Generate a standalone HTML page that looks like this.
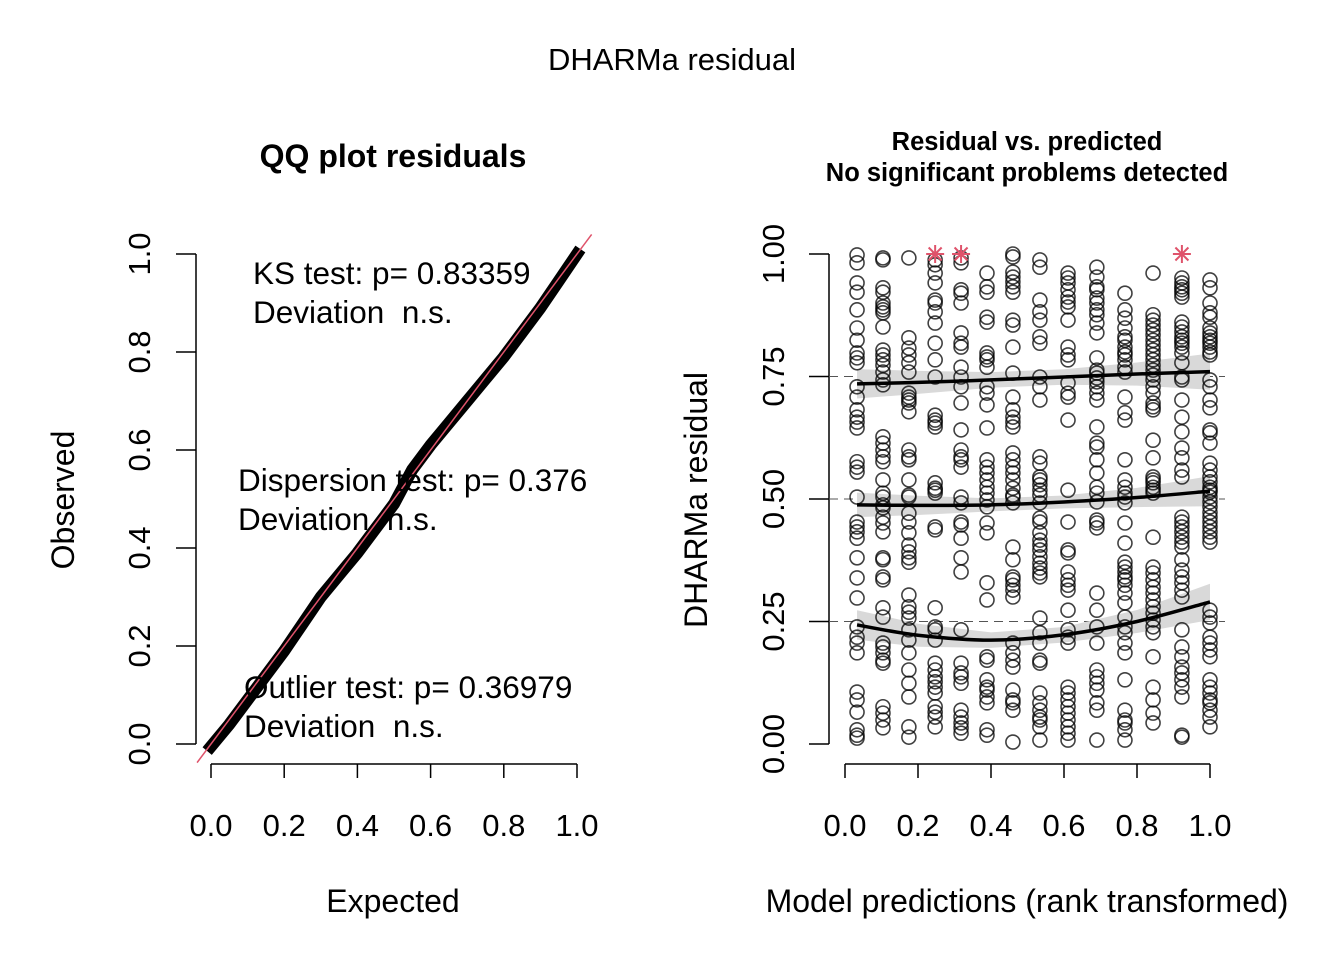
<!DOCTYPE html>
<html><head><meta charset="utf-8">
<style>
html,body{margin:0;padding:0;background:#fff;}
svg{display:block;font-family:"Liberation Sans",Arial,sans-serif;}
text{white-space:pre;}
</style></head>
<body>
<svg id="chart" width="1344" height="960" viewBox="0 0 1344 960" xmlns="http://www.w3.org/2000/svg">
<rect width="1344" height="960" fill="#fff"/>
<text x="672" y="70" font-size="31" text-anchor="middle">DHARMa residual</text>
<text x="393" y="167" font-size="32" font-weight="bold" text-anchor="middle">QQ plot residuals</text>
<text x="1027" y="150" font-size="25.5" font-weight="bold" text-anchor="middle">Residual vs. predicted</text>
<text x="1027" y="181" font-size="25.5" font-weight="bold" text-anchor="middle">No significant problems detected</text>
<text x="393" y="912" font-size="32" text-anchor="middle">Expected</text>
<text transform="translate(74,500) rotate(-90)" font-size="32" text-anchor="middle">Observed</text>
<text x="1027" y="912" font-size="32" text-anchor="middle">Model predictions (rank transformed)</text>
<text transform="translate(707,500) rotate(-90)" font-size="32" text-anchor="middle">DHARMa residual</text>
<g id="qq"></g>
<g id="rp"></g>
</svg>
<script>
// ---- QQ plot data ----
const qqExpected = [0,0.05,0.1,0.15,0.2,0.25,0.3,0.35,0.4,0.45,0.5,0.55,0.6,0.65,0.7,0.75,0.8,0.85,0.9,0.95,1.0];
const qqObserved = [-0.005,0.04,0.09,0.14,0.19,0.245,0.3,0.345,0.39,0.44,0.49,0.56,0.61,0.655,0.7,0.745,0.79,0.84,0.89,0.945,1.0];
const qqTicks = ["0.0","0.2","0.4","0.6","0.8","1.0"];
const qqTickValues = [0,0.2,0.4,0.6,0.8,1.0];
// ---- Residual plot data ----
const predX = [0.033,0.104,0.175,0.247,0.318,0.389,0.46,0.534,0.611,0.690,0.767,0.844,0.923,1.0];
const resCols = [
[.998,.982,.941,.922,.886,.849,.824,.798,.788,.778,.729,.708,.682,.667,.657,.645,.576,.565,.555,.504,.453,.443,.433,.420,.380,.339,.298,.239,.218,.206,.186,.106,.090,.065,.029,.018,.012],
[.992,.988,.931,.922,.9,.892,.886,.88,.851,.804,.794,.784,.773,.759,.743,.733,.627,.614,.6,.586,.576,.539,.512,.504,.488,.482,.463,.451,.433,.38,.376,.341,.335,.278,.259,.206,.198,.186,.171,.165,.076,.063,.049,.033],
[.992,.829,.808,.794,.778,.759,.716,.708,.702,.696,.678,.6,.586,.580,.539,.508,.504,.471,.453,.431,.406,.392,.380,.371,.304,.280,.269,.257,.233,.212,.186,.151,.124,.096,.035,.014],
[.988,.978,.961,.941,.906,.9,.882,.859,.818,.784,.749,.671,.661,.655,.647,.533,.522,.512,.518,.443,.437,.278,.239,.233,.212,.165,.151,.137,.127,.116,.104,.076,.065,.055,.035],
[.992,.982,.927,.92,.9,.839,.818,.81,.769,.749,.729,.696,.641,.6,.586,.58,.565,.504,.492,.453,.447,.42,.38,.351,.233,.165,.145,.137,.124,.069,.055,.043,.033,.022],
[.961,.933,.922,.871,.861,.798,.790,.784,.769,.729,.716,.692,.645,.58,.565,.553,.539,.524,.512,.498,.484,.451,.431,.329,.294,.178,.171,.131,.116,.110,.096,.084,.029,.018],
[1.0,.994,.963,.953,.943,.933,.922,.865,.855,.810,.757,.708,.682,.667,.657,.647,.594,.58,.565,.553,.539,.522,.508,.504,.492,.402,.376,.341,.335,.324,.314,.3,.206,.186,.171,.157,.110,.090,.084,.069,.004],
[.988,.973,.906,.882,.865,.831,.818,.749,.729,.702,.586,.573,.545,.539,.529,.518,.508,.492,.461,.453,.431,.416,.406,.396,.382,.369,.359,.349,.341,.257,.227,.206,.171,.165,.104,.084,.069,.055,.049,.035,.008],
[.961,.951,.941,.927,.912,.902,.892,.865,.810,.794,.784,.737,.716,.708,.661,.518,.453,.396,.39,.351,.335,.324,.314,.273,.233,.218,.206,.116,.104,.09,.076,.063,.049,.035,.022,.008],
[.973,.953,.933,.927,.910,.9,.886,.876,.859,.839,.788,.763,.757,.747,.739,.729,.716,.702,.647,.614,.606,.58,.553,.524,.512,.494,.457,.451,.441,.308,.273,.239,.206,.151,.137,.124,.110,.084,.069,.008],
[.92,.886,.869,.849,.831,.824,.810,.8,.794,.784,.769,.759,.708,.676,.661,.58,.539,.524,.512,.504,.492,.451,.410,.371,.361,.351,.341,.335,.324,.308,.288,.259,.239,.227,.206,.186,.131,.069,.049,.043,.029,.008],
[.961,.876,.865,.855,.845,.835,.824,.814,.804,.794,.784,.773,.763,.753,.743,.729,.716,.696,.688,.682,.620,.584,.545,.539,.533,.524,.518,.512,.422,.361,.349,.335,.320,.308,.294,.280,.267,.253,.239,.227,.178,.116,.090,.063,.043],
[.951,.941,.933,.927,.92,.912,.861,.851,.841,.831,.824,.818,.810,.798,.778,.749,.743,.702,.667,.637,.604,.584,.559,.545,.463,.453,.443,.433,.422,.412,.402,.376,.355,.341,.329,.314,.3,.233,.198,.178,.157,.145,.131,.116,.096,.018,.014],
[.947,.931,.9,.880,.871,.849,.839,.831,.824,.818,.810,.8,.794,.743,.729,.702,.686,.641,.635,.614,.573,.559,.545,.535,.524,.514,.518,.504,.494,.484,.473,.463,.453,.443,.433,.422,.412,.273,.259,.247,.218,.206,.192,.178,.131,.116,.104,.09,.084,.069,.055,.035]
];
const outlierX = [0.247,0.318,0.923];
const outlierY = [1.0,1.0,1.0];
const quantX = [0.033,0.2,0.4,0.6,0.8,1.0];
const q75 = [0.735,0.738,0.743,0.749,0.755,0.760];
const q50 = [0.488,0.487,0.488,0.494,0.503,0.516];
const q25 = [0.243,0.222,0.212,0.223,0.250,0.290];
const resTicks = ["0.00","0.25","0.50","0.75","1.00"];
const resTickValues = [0,0.25,0.5,0.75,1.0];
const predTicks = ["0.0","0.2","0.4","0.6","0.8","1.0"];
const predTickValues = [0,0.2,0.4,0.6,0.8,1.0];

const NS = "http://www.w3.org/2000/svg";
function mk(parent, tag, attrs){const e=document.createElementNS(NS,tag);for(const k in attrs)e.setAttribute(k,attrs[k]);parent.appendChild(e);return e;}

const qx = v => 211 + v*366;
const qy = v => 744 - v*490;
const qq = document.getElementById('qq');
let e;
e = mk(qq,'line',{x1:qx(0),x2:qx(1),y1:764,y2:764,stroke:'#000','stroke-width':1.5});


e = mk(qq,'line',{x1:196,x2:196,y1:qy(0),y2:qy(1),stroke:'#000','stroke-width':1.5});


qqTickValues.forEach((v,i)=>{
  let t = mk(qq,'line',{x1:qx(v),x2:qx(v),y1:764,y2:778,stroke:'#000','stroke-width':1.5});
  
  
  let l = mk(qq,'text',{x:qx(v),y:836,'font-size':31,'text-anchor':'middle'});
  l.textContent = qqTicks[i];
  
  
  let t2 = mk(qq,'line',{x1:176,x2:196,y1:qy(v),y2:qy(v),stroke:'#000','stroke-width':1.5});
  
  
  let l2 = mk(qq,'text',{transform:`translate(150,${qy(v)}) rotate(-90)`,'font-size':31,'text-anchor':'middle'});
  l2.textContent = qqTicks[i];
  
  
});
let pts = qqExpected.map((v,i)=>qx(v)+','+qy(qqObserved[i])).join(' ');
e = mk(qq,'polyline',{points:pts,fill:'none',stroke:'#000','stroke-width':12,'stroke-linejoin':'round','stroke-linecap':'square'});


e = mk(qq,'line',{x1:qx(-0.038),y1:qy(-0.038),x2:qx(1.04),y2:qy(1.04),stroke:'#DF536B','stroke-width':1.5});


const qqTexts = [[253,284,"KS test: p= 0.83359"],[253,323,"Deviation  n.s."],[238,491,"Dispersion test: p= 0.376"],[238,530,"Deviation  n.s."],[244,698,"Outlier test: p= 0.36979"],[244,737,"Deviation  n.s."]];
qqTexts.forEach(a=>{
  let t = mk(qq,'text',{x:a[0],y:a[1],'font-size':31.5});
  t.textContent=a[2];
  
  
});

const rx = v => 845 + v*365;
const ry = v => 744 - v*490;
const rp = document.getElementById('rp');
e = mk(rp,'line',{x1:rx(0),x2:rx(1),y1:764,y2:764,stroke:'#000','stroke-width':1.5});


e = mk(rp,'line',{x1:829,x2:829,y1:ry(0),y2:ry(1),stroke:'#000','stroke-width':1.5});


predTickValues.forEach((v,i)=>{
  let t = mk(rp,'line',{x1:rx(v),x2:rx(v),y1:764,y2:778,stroke:'#000','stroke-width':1.5});
  
  
  let l = mk(rp,'text',{x:rx(v),y:836,'font-size':31,'text-anchor':'middle'});
  l.textContent = predTicks[i];
  
  
});
resTickValues.forEach((v,i)=>{
  let t = mk(rp,'line',{x1:809,x2:829,y1:ry(v),y2:ry(v),stroke:'#000','stroke-width':1.5});
  
  
  let l = mk(rp,'text',{transform:`translate(784,${ry(v)}) rotate(-90)`,'font-size':31,'text-anchor':'middle'});
  l.textContent = resTicks[i];
  
  
});
[0.25,0.5,0.75].forEach(v=>{
  let d = mk(rp,'line',{x1:829,x2:1225,y1:ry(v),y2:ry(v),stroke:'#555','stroke-width':1,'stroke-dasharray':'9,6'});
  
  
});
function bandPath(q, w0){
  const up = quantX.map((x,i)=>{const w = w0*(1+1.6*Math.abs(x-0.5)*2*(i==quantX.length-1?1.3:1));return [rx(x),ry(q[i]+w)];});
  const lo = quantX.map((x,i)=>{const w = w0*(1+1.6*Math.abs(x-0.5)*2*(i==quantX.length-1?1.3:1));return [rx(x),ry(q[i]-w)];}).reverse();
  return 'M'+up.concat(lo).map(p=>p.join(',')).join('L')+'Z';
}
[q75,q50,q25].forEach((q,k)=>{
  let b = mk(rp,'path',{d:bandPath(q,[0.012,0.01,0.012][k]),fill:'#d9d9d9',stroke:'none'});
  
  
});
predX.forEach((x,i)=>{
  resCols[i].forEach(v=>{
    let c = mk(rp,'circle',{cx:rx(x),cy:ry(v),r:7,fill:'none',stroke:'rgba(0,0,0,0.75)','stroke-width':1.6});
    
    
  });
});
function smooth(q){
  const p = quantX.map((x,i)=>[rx(x),ry(q[i])]);
  let d='M'+p[0].join(',');
  for(let i=0;i<p.length-1;i++){
    const p0=p[i-1]||p[i],p1=p[i],p2=p[i+1],p3=p[i+2]||p2;
    d+=`C${p1[0]+(p2[0]-p0[0])/6},${p1[1]+(p2[1]-p0[1])/6} ${p2[0]-(p3[0]-p1[0])/6},${p2[1]-(p3[1]-p1[1])/6} ${p2[0]},${p2[1]}`;
  }
  return d;
}
[q75,q50,q25].forEach(q=>{
  let l = mk(rp,'path',{d:smooth(q),fill:'none',stroke:'#000','stroke-width':3.5});
  
  
});
outlierX.forEach((x,i)=>{
  const cx=rx(x), cy=ry(outlierY[i]);
  let g = mk(rp,'g',{stroke:'#DF536B','stroke-width':2});
  
  
  mk(g,'line',{x1:cx-9,x2:cx+9,y1:cy,y2:cy});
  mk(g,'line',{x1:cx,x2:cx,y1:cy-9,y2:cy+9});
  mk(g,'line',{x1:cx-6.5,x2:cx+6.5,y1:cy-6.5,y2:cy+6.5});
  mk(g,'line',{x1:cx-6.5,x2:cx+6.5,y1:cy+6.5,y2:cy-6.5});
});
</script>
</body></html>
